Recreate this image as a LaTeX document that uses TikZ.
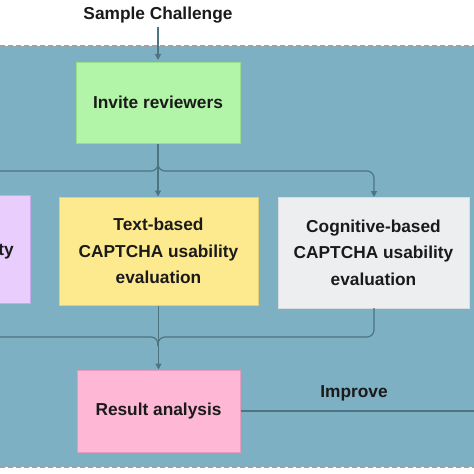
\documentclass[tikz,border=0pt]{standalone}
\usepackage{fontspec}
\setmainfont{Liberation Sans}
\usetikzlibrary{arrows.meta}
\definecolor{bgblue}{HTML}{7EB0C3}
\definecolor{linec}{HTML}{4E7381}
\definecolor{txt}{HTML}{1A1A1A}
\definecolor{gfill}{HTML}{B3F5A8}\definecolor{gdraw}{HTML}{98DE8C}
\definecolor{yfill}{HTML}{FDE98E}\definecolor{ydraw}{HTML}{E6CF73}
\definecolor{cfill}{HTML}{ECEEEF}\definecolor{cdraw}{HTML}{D7DCDE}
\definecolor{pfill}{HTML}{FFB7D6}\definecolor{pdraw}{HTML}{E59CBC}
\definecolor{vfill}{HTML}{E8CDFD}\definecolor{vdraw}{HTML}{C7A9EC}
\definecolor{dashc}{HTML}{9AA4A8}
\tikzset{
  box/.style={rectangle, line width=1pt, align=center, font=\fontsize{17.3}{26.5}\selectfont\bfseries, text=txt, inner sep=0pt},
  conn/.style={draw=linec, line width=1.2pt},
  arr/.style={conn, -{Triangle[length=6pt,width=6pt]}},
  lbl/.style={font=\fontsize{17.3}{20}\selectfont\bfseries, text=txt}
}
\begin{document}
\begin{tikzpicture}[x=1pt,y=-1pt]
\useasboundingbox (0,0) rectangle (474,474);
\fill[white] (0,0) rectangle (474,474);
\fill[bgblue] (0,46) rectangle (474,467);
\draw[dashc, line width=1.5pt, dash pattern=on 5pt off 3pt] (0,46) -- (474,46);
\draw[dashc, line width=1.5pt, dash pattern=on 5pt off 3pt] (0,467) -- (474,467);
\begin{scope}
\clip (0,0) rectangle (474,474);
\node[box, fill=vfill, draw=vdraw, minimum width=192pt, minimum height=108pt] (img) at (-66,249) {Image-based\\CAPTCHA usability\\evaluation};
\coordinate (lsplit) at (-5,171);
\coordinate (lmerge) at (-5,337);
\end{scope}
\node[lbl] (sample) at (158,15) {Sample Challenge};
\node[box, fill=gfill, draw=gdraw, minimum width=164pt, minimum height=81pt] (invite) at (158,102.5) {Invite reviewers};
\node[box, fill=yfill, draw=ydraw, minimum width=199pt, minimum height=108pt] (text) at (158.5,251) {Text-based\\CAPTCHA usability\\evaluation};
\node[box, fill=cfill, draw=cdraw, minimum width=191pt, minimum height=111pt] (cog) at (373.5,252.5) {Cognitive-based\\CAPTCHA usability\\evaluation};
\node[box, fill=pfill, draw=pdraw, minimum width=163pt, minimum height=82pt] (res) at (158.5,411) {Result analysis};
\coordinate (rend) at (474,411);
\node[lbl] (imp) at (354,393) {Improve};
% connectors
\draw[arr] (sample.south) -- (158,60);
\draw[arr] (invite.south) -- (invite.south |- text.north);
\coordinate (sp) at (158,162);
\draw[arr, rounded corners=7pt] (sp) |- (374,171) -- (374,197);
\draw[conn, rounded corners=7pt] (sp) |- (lsplit);
\draw[arr] (text.south -| res.north) -- (res.north);
\coordinate (mg) at (158,346);
\draw[conn, rounded corners=7pt] (374,308) |- (158,337) -- (mg);
\draw[conn, rounded corners=7pt] (lmerge) -| (mg);
\draw[conn] (res.east) -- (rend);
\end{tikzpicture}
\end{document}
